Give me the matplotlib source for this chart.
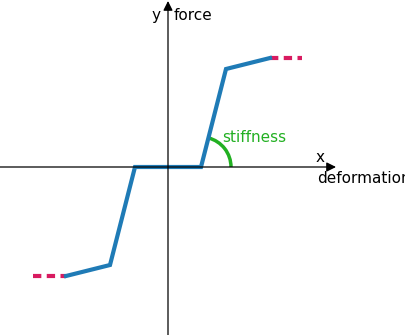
import matplotlib.pyplot as plt
import numpy as np
from matplotlib.patches import Arc

# force-deformation curve (pixel-like units, origin at axes crossing)
deform = [-102, -58, -33, 33, 58, 102]
force = [-109, -98, 0, 0, 98, 109]
# dashed continuation at both ends
dash_right_x = [102, 134]
dash_right_y = [109, 109]
dash_left_x = [-135, -102]
dash_left_y = [-109, -109]

blue = "#1f7bb6"
red = "#d81b60"
green = "#22b022"

fig = plt.figure(figsize=(4.06, 3.35), dpi=100)
ax = fig.add_axes([0, 0, 1, 1])
ax.set_xlim(-168, 238)
ax.set_ylim(-168, 167)
ax.axis("off")

# axes with arrows
ax.annotate("", xy=(168, 0), xytext=(-168, 0),
            arrowprops=dict(arrowstyle="-|>", color="black", lw=0.9,
                            mutation_scale=14, shrinkA=0, shrinkB=0))
ax.annotate("", xy=(0, 166), xytext=(0, -168),
            arrowprops=dict(arrowstyle="-|>", color="black", lw=0.9,
                            mutation_scale=14, shrinkA=0, shrinkB=0))

ax.plot(dash_right_x, dash_right_y, color=red, lw=3, ls=(0, (2, 1.3)),
        solid_capstyle="butt", dash_capstyle="butt")
ax.plot(dash_left_x, dash_left_y, color=red, lw=3, ls=(0, (2, 1.3)),
        solid_capstyle="butt", dash_capstyle="butt")
ax.plot(deform, force, color=blue, lw=3, solid_joinstyle="miter")

# stiffness angle
ang = np.degrees(np.arctan2(force[4] - force[3], deform[4] - deform[3]))
ax.add_patch(Arc((deform[3], 0), 60, 60, theta1=0, theta2=ang,
                 color=green, lw=2.5))

fs = 11
ax.text(54, 25, "stiffness", color=green, fontsize=fs, ha="left", va="baseline")
ax.text(6, 147, "force", fontsize=fs, ha="left", va="baseline")
ax.text(-7, 147, "y", fontsize=fs, ha="right", va="baseline")
ax.text(152, 5, "x", fontsize=fs, ha="center", va="baseline")
ax.text(149, -16, "deformation", fontsize=fs, ha="left", va="baseline")

fig.savefig("out.png", dpi=100)
